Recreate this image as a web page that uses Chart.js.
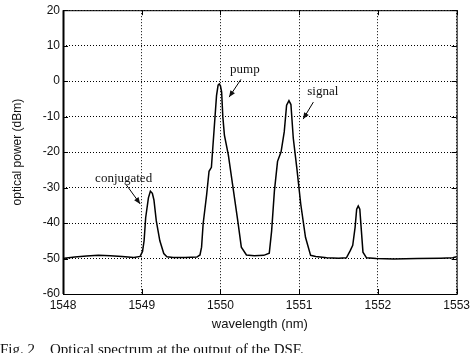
<!DOCTYPE html>
<html>
<head>
<meta charset="utf-8">
<script src="https://cdn.jsdelivr.net/npm/chart.js@4.4.1/dist/chart.umd.min.js"></script>
<style>
  html, body { margin: 0; padding: 0; background: #fff; overflow: hidden; }
  #wrap { position: relative; width: 474px; height: 353px; }
  #caption { position: absolute; left: 0px; top: 341px; font-family: "Liberation Serif", serif; font-size: 15px; color: #111; white-space: pre; }
</style>
</head>
<body>
<div id="wrap">
  <canvas id="c" width="474" height="353"></canvas>
  <div id="caption">Fig. 2    Optical spectrum at the output of the DSF.</div>
</div>
<script>
// Data
const wavelength = [
  1548.00, 1548.02, 1548.15, 1548.30, 1548.45, 1548.60, 1548.75, 1548.90, 1548.98,
  1549.01, 1549.03, 1549.05, 1549.085, 1549.11, 1549.135, 1549.155, 1549.185, 1549.23,
  1549.28, 1549.32, 1549.40, 1549.55, 1549.70, 1549.74, 1549.76, 1549.78, 1549.825,
  1549.855, 1549.885, 1549.92, 1549.95, 1549.97, 1549.985, 1550.00, 1550.015, 1550.03,
  1550.05, 1550.10, 1550.16, 1550.22, 1550.265, 1550.33, 1550.43, 1550.55, 1550.62,
  1550.65, 1550.685, 1550.725, 1550.77, 1550.81, 1550.84, 1550.87, 1550.895, 1550.925,
  1550.97, 1551.02, 1551.08, 1551.145, 1551.21, 1551.35, 1551.50, 1551.60, 1551.65,
  1551.68, 1551.71, 1551.73, 1551.75, 1551.77, 1551.79, 1551.81, 1551.855, 1551.98,
  1552.20, 1552.50, 1552.80, 1552.95, 1553.00
];
const power = [
  -50.2, -49.9, -49.6, -49.3, -49.1, -49.2, -49.4, -49.7, -49.4,
  -48.0, -45.0, -38.5, -32.9, -31.0, -31.6, -33.5, -39.4, -45.0,
  -48.6, -49.5, -49.7, -49.7, -49.6, -49.0, -46.8, -40.2, -31.9,
  -25.4, -24.3, -13.4, -4.1, -1.1, -0.8, -1.3, -3.1, -10.0,
  -15.2, -20.8, -30.1, -39.4, -46.8, -49.0, -49.2, -49.1, -48.5,
  -42.2, -31.0, -22.6, -19.9, -14.3, -6.8, -5.5, -6.6, -16.1,
  -24.5, -34.7, -44.0, -49.1, -49.4, -49.8, -49.9, -49.8, -47.7,
  -46.3, -41.2, -36.1, -35.2, -36.1, -42.2, -48.2, -49.8, -50.0,
  -50.1, -50.0, -49.9, -49.8, -49.5
];
const xTicks = [1548, 1549, 1550, 1551, 1552, 1553];
const yTicks = [-60, -50, -40, -30, -20, -10, 0, 10, 20];

// Annotation labels (data coordinates) and arrows (from -> to, data coordinates)
const labelText = ["conjugated", "pump", "signal"];
const labelX = [1548.77, 1550.31, 1551.30];
const labelY = [-27.4, 3.3, -2.9];
const arrowFromX = [1548.80, 1550.26, 1551.18];
const arrowFromY = [-29.1, 0.5, -5.9];
const arrowToX = [1548.98, 1550.11, 1551.05];
const arrowToY = [-34.6, -4.5, -10.7];

const points = wavelength.map((w, i) => ({x: w, y: power[i]}));

const framePlugin = {
  id: 'frame',
  afterDraw(chart) {
    const {ctx, chartArea: a, scales} = chart;
    ctx.save();
    ctx.strokeStyle = '#000';
    ctx.lineWidth = 1;
    ctx.setLineDash([]);
    ctx.strokeRect(a.left + 0.5, a.top + 0.5, a.right - a.left, a.bottom - a.top);
    ctx.lineWidth = 2;
    ctx.beginPath();
    ctx.moveTo(a.left + 0.5, a.top);
    ctx.lineTo(a.left + 0.5, a.bottom);
    ctx.stroke();
    ctx.lineWidth = 1;
    const tl = 5;
    ctx.beginPath();
    xTicks.forEach(v => {
      const x = Math.round(scales.x.getPixelForValue(v)) + 0.5;
      ctx.moveTo(x, a.bottom); ctx.lineTo(x, a.bottom - tl);
      ctx.moveTo(x, a.top); ctx.lineTo(x, a.top + tl);
    });
    yTicks.forEach(v => {
      const y = Math.round(scales.y.getPixelForValue(v)) + 0.5;
      ctx.moveTo(a.left, y); ctx.lineTo(a.left + tl, y);
      ctx.moveTo(a.right, y); ctx.lineTo(a.right - tl, y);
    });
    ctx.stroke();
    ctx.fillStyle = '#111';
    ctx.font = '13px "Liberation Serif", serif';
    ctx.textAlign = 'center';
    ctx.textBaseline = 'middle';
    labelText.forEach((t, i) => {
      ctx.fillText(t, scales.x.getPixelForValue(labelX[i]), scales.y.getPixelForValue(labelY[i]));
      const x1 = scales.x.getPixelForValue(arrowFromX[i]);
      const y1 = scales.y.getPixelForValue(arrowFromY[i]);
      const x2 = scales.x.getPixelForValue(arrowToX[i]);
      const y2 = scales.y.getPixelForValue(arrowToY[i]);
      ctx.lineWidth = 1;
      ctx.beginPath();
      ctx.moveTo(x1, y1); ctx.lineTo(x2, y2);
      ctx.stroke();
      const ang = Math.atan2(y2 - y1, x2 - x1);
      const L = 7, W = 0.4;
      ctx.beginPath();
      ctx.moveTo(x2, y2);
      ctx.lineTo(x2 - L * Math.cos(ang - W), y2 - L * Math.sin(ang - W));
      ctx.lineTo(x2 - L * Math.cos(ang + W), y2 - L * Math.sin(ang + W));
      ctx.closePath();
      ctx.fill();
    });
    ctx.restore();
  }
};

new Chart(document.getElementById('c'), {
  type: 'scatter',
  data: {
    datasets: [{
      data: points,
      showLine: true,
      borderColor: '#000',
      borderWidth: 1.5,
      pointRadius: 0,
      tension: 0
    }]
  },
  options: {
    responsive: false,
    animation: false,
    plugins: { legend: { display: false }, tooltip: { enabled: false } },
    layout: { padding: { left: 10, right: 13, top: 7, bottom: 21 } },
    scales: {
      x: {
        type: 'linear', min: 1548, max: 1553,
        afterBuildTicks: s => { s.ticks = xTicks.map(v => ({value: v})); },
        afterFit: s => { s.height = 38; },
        grid: { color: '#000', lineWidth: 1, drawTicks: false },
        border: { display: false, dash: [1, 2] },
        ticks: { color: '#111', padding: 4, callback: v => String(v),
                 font: { family: '"Liberation Sans", Arial, sans-serif', size: 12 } },
        title: { display: true, text: 'wavelength (nm)', color: '#111', padding: { top: 3, bottom: 0 },
                 font: { family: '"Liberation Sans", Arial, sans-serif', size: 13 } }
      },
      y: {
        type: 'linear', min: -60, max: 20,
        afterBuildTicks: s => { s.ticks = yTicks.map(v => ({value: v})); },
        afterFit: s => { s.width = 53; },
        grid: { color: '#000', lineWidth: 1, drawTicks: false },
        border: { display: false, dash: [1, 2] },
        ticks: { color: '#111', padding: 3, callback: v => String(v),
                 font: { family: '"Liberation Sans", Arial, sans-serif', size: 12 } },
        title: { display: true, text: 'optical power (dBm)', color: '#111', padding: { top: 0, bottom: 0 },
                 font: { family: '"Liberation Sans", Arial, sans-serif', size: 12 } }
      }
    }
  },
  plugins: [framePlugin]
});
</script>
</body>
</html>
